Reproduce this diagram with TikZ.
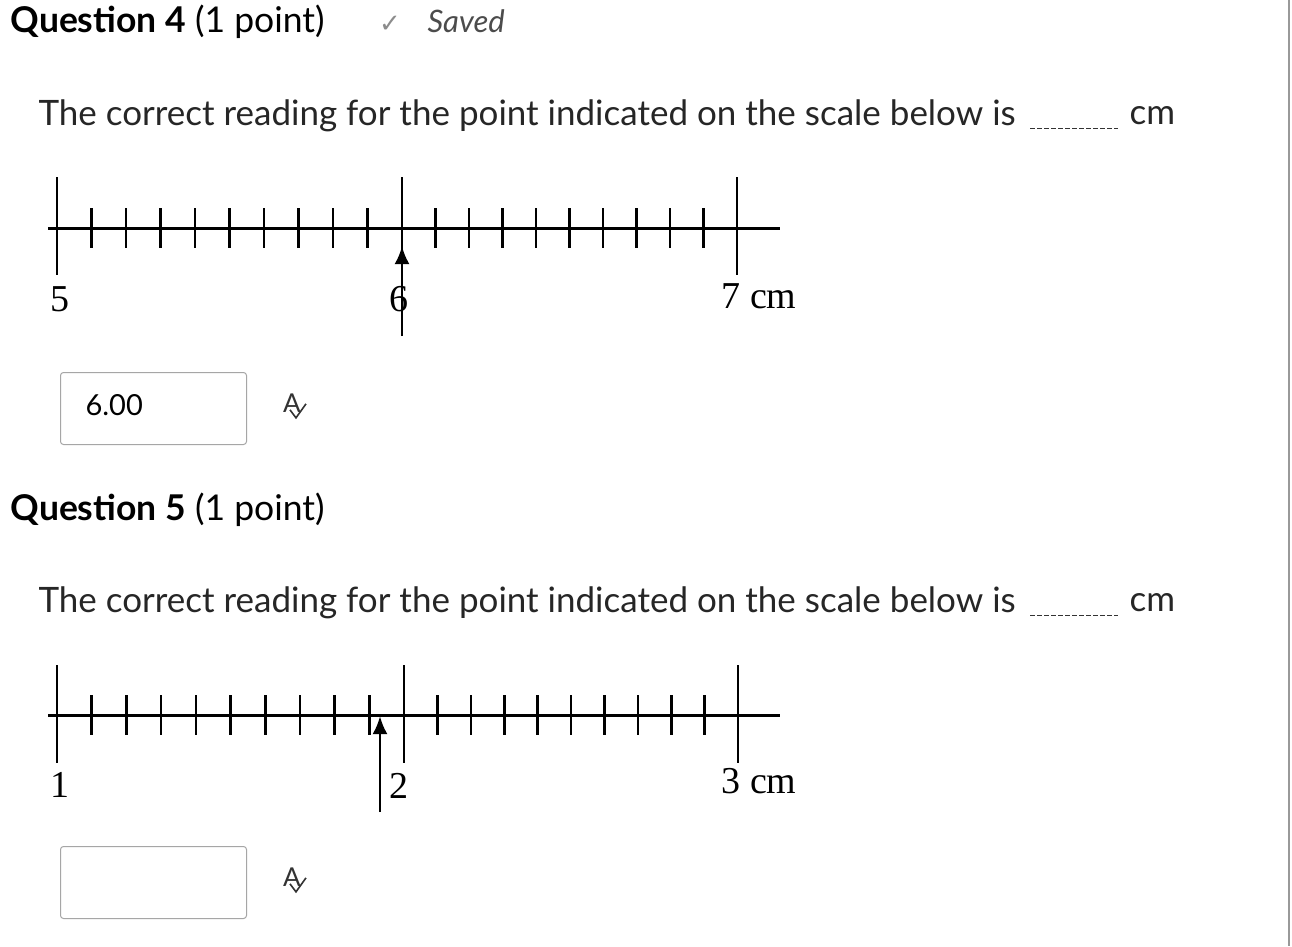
\documentclass[tikz,border=0pt]{standalone}
\usepackage{fontspec}
\usetikzlibrary{arrows.meta}
\setmainfont{Lato}
\newfontfamily\timesf{Liberation Serif}
\newfontfamily\djv{DejaVu Sans}
\begin{document}
\begin{tikzpicture}[x=1pt,y=-1pt,
  head/.style={anchor=west,font=\fontsize{35.5}{40}\selectfont},
  body/.style={anchor=west,font=\fontsize{35}{42}\selectfont,text=black!85},
  lab/.style={font=\timesf\fontsize{38}{42}\selectfont},
  ax/.style={line width=3pt},
  tk/.style={line width=2.6pt},
  spell/.style={font=\fontsize{26}{28}\selectfont,text=black!80},
  box/.style={draw=black!35,line width=1pt,rounded corners=3pt,minimum width=186pt,minimum height=72pt,anchor=north west}]
\useasboundingbox (0,0) rectangle (1292,946);
\fill[white] (0,0) rectangle (1292,946);
\draw[black!40,line width=1.5pt] (1289,0) -- (1289,946);
% Question 4
\node[head] (q4) at (7,22) {\textbf{Question 4} (1 point)};
\node[text=black!45,font=\djv\fontsize{26}{28}\selectfont] (chk) at (390,24) {✓};
\node[head,text=black!70,font=\itshape\fontsize{31}{36}\selectfont] (sv) at (424,21) {Saved};
\node[body] (t4) at (35,116) {The correct reading for the point indicated on the scale below is};
\draw[black!80,line width=1pt,dash pattern=on 5pt off 2pt] (1030,128) -- (1118,128);
\node[body] (u4) at (1126,116) {cm};
% scale 1
\coordinate (a1) at (48,228); \coordinate (b1) at (780,228);
\draw[ax] (a1) -- (b1);
\foreach \x in {57,402,737} \draw[tk] (\x,177) -- (\x,275);
\foreach \i in {1,...,9} {\draw[tk] ({57+34.5*\i},208) -- ({57+34.5*\i},248);
  \draw[tk] ({402+33.5*\i},208) -- ({402+33.5*\i},248);}
\node[lab] (l5) at (60,299) {5};
\node[lab] (l6) at (399,299) {6};
\node[lab,anchor=west] (l7) at (718,296) {7 cm};
\coordinate (p1) at (402,336); \coordinate (p1t) at (402,246);
\draw[line width=2.8pt,-{Latex[length=18pt,width=15pt]}] (p1) -- (p1t);
\node[box] (bx1) at (60,372) {};
\node[anchor=west,font=\fontsize{29}{34}\selectfont] (v1) at (82,405) {6.00};
\node[spell] (sp1) at (292,403) {A};
\draw[black!80,line width=1.6pt] (sp1.south)+(-2,-6) -- +(4,2) -- +(14,-12);
% Question 5
\node[head] (q5) at (7,510) {\textbf{Question 5} (1 point)};
\node[body] (t5) at (35,603) {The correct reading for the point indicated on the scale below is};
\draw[black!80,line width=1pt,dash pattern=on 5pt off 2pt] (1030,615) -- (1118,615);
\node[body] (u5) at (1126,603) {cm};
% scale 2
\coordinate (a2) at (48,715); \coordinate (b2) at (780,715);
\draw[ax] (a2) -- (b2);
\foreach \x in {57,404,738} \draw[tk] (\x,665) -- (\x,763);
\foreach \i in {1,...,9} {\draw[tk] ({57+34.7*\i},695) -- ({57+34.7*\i},735);
  \draw[tk] ({404+33.4*\i},695) -- ({404+33.4*\i},735);}
\node[lab] (m1) at (60,785) {1};
\node[lab] (m2) at (399,786) {2};
\node[lab,anchor=west] (m3) at (718,781) {3 cm};
\coordinate (p2) at (380,812); \coordinate (p2t) at (380,716);
\draw[line width=2.8pt,-{Latex[length=18pt,width=15pt]}] (p2) -- (p2t);
\node[box] (bx2) at (60,846) {};
\node[spell] (sp2) at (292,877) {A};
\draw[black!80,line width=1.6pt] (sp2.south)+(-2,-6) -- +(4,2) -- +(14,-12);
\end{tikzpicture}
\end{document}
